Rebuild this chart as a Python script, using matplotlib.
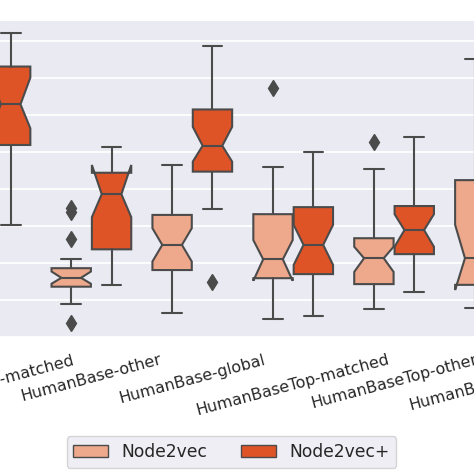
import matplotlib
matplotlib.use("Agg")
import matplotlib.pyplot as plt
from matplotlib.patches import Patch
import numpy as np
import seaborn as sns

categories = [
    "HumanBase-matched",
    "HumanBase-other",
    "HumanBase-global",
    "HumanBaseTop-matched",
    "HumanBaseTop-other",
    "HumanBaseTop-global",
]
methods = ["Node2vec", "Node2vec+"]

# box statistics, one entry per category
n2v_lo = [0.150, 0.088, 0.066, 0.048, 0.075, 0.078]
n2v_q1 = [0.300, 0.136, 0.181, 0.159, 0.143, 0.141]
n2v_med = [0.400, 0.160, 0.249, 0.210, 0.213, 0.213]
n2v_q3 = [0.500, 0.186, 0.330, 0.332, 0.267, 0.424]
n2v_hi = [0.700, 0.210, 0.465, 0.460, 0.453, 0.751]
n2v_cilo = [0.350, 0.144, 0.204, 0.152, 0.176, 0.127]
n2v_cihi = [0.450, 0.177, 0.294, 0.262, 0.244, 0.303]
n2v_fliers = [[], [0.348, 0.337, 0.265, 0.037], [], [0.674], [0.528], []]

n2vp_lo = [0.303, 0.141, 0.345, 0.057, 0.122, 0.300]
n2vp_q1 = [0.519, 0.237, 0.447, 0.170, 0.224, 0.450]
n2vp_med = [0.629, 0.386, 0.517, 0.249, 0.289, 0.550]
n2vp_q3 = [0.731, 0.444, 0.615, 0.351, 0.354, 0.650]
n2vp_hi = [0.821, 0.514, 0.787, 0.501, 0.541, 0.800]
n2vp_cilo = [0.564, 0.324, 0.474, 0.195, 0.244, 0.500]
n2vp_cihi = [0.701, 0.465, 0.568, 0.303, 0.332, 0.600]
n2vp_fliers = [[], [], [0.149], [], [], []]

colors = ["#EEA88B", "#DF5427"]
gray = "#4b4b4b"


def make_stats(lo, q1, med, q3, hi, cilo, cihi, fliers):
    return [
        dict(whislo=lo[i], q1=q1[i], med=med[i], q3=q3[i], whishi=hi[i],
             cilo=cilo[i], cihi=cihi[i], fliers=fliers[i])
        for i in range(len(lo))
    ]


sns.set_style("darkgrid")

fig = plt.figure(figsize=(4.74, 4.74), dpi=100)
# the reference is a crop of a wider chart, so the axes run past the edges
ax = fig.add_axes([-0.1265, 0.289, 1.2772, 0.6688])

groups = [
    make_stats(n2v_lo, n2v_q1, n2v_med, n2v_q3, n2v_hi, n2v_cilo, n2v_cihi, n2v_fliers),
    make_stats(n2vp_lo, n2vp_q1, n2vp_med, n2vp_q3, n2vp_hi, n2vp_cilo, n2vp_cihi, n2vp_fliers),
]
x = np.arange(len(categories))
for k, stats in enumerate(groups):
    ax.bxp(
        stats,
        positions=x + (k - 0.5) * 0.4,
        widths=0.39,
        shownotches=True,
        patch_artist=True,
        boxprops=dict(facecolor=colors[k], edgecolor=gray, linewidth=1.5),
        medianprops=dict(color=gray, linewidth=1.5),
        whiskerprops=dict(color=gray, linewidth=1.5),
        capprops=dict(color=gray, linewidth=1.5),
        flierprops=dict(marker="d", markerfacecolor=gray, markeredgecolor=gray,
                        markersize=8),
        manage_ticks=False,
    )

ax.set_xlim(-0.5, len(categories) - 0.5)
ax.set_ylim(0, 0.8568)
ax.set_yticks(np.arange(0, 0.86, 0.1))
ax.set_xticks(x)
ax.set_xticklabels(categories, rotation=15, fontsize=11.4)
ax.tick_params(axis="x", length=0, pad=11)
ax.grid(axis="x", visible=False)
ax.grid(axis="y", color="white", linewidth=1.3)

handles = [Patch(facecolor=c, edgecolor=gray, linewidth=1) for c in colors]
fig.legend(handles, methods, loc="center", bbox_to_anchor=(0.4884, 0.0464),
           ncol=2, fontsize=12.3)

fig.savefig("out.png")
